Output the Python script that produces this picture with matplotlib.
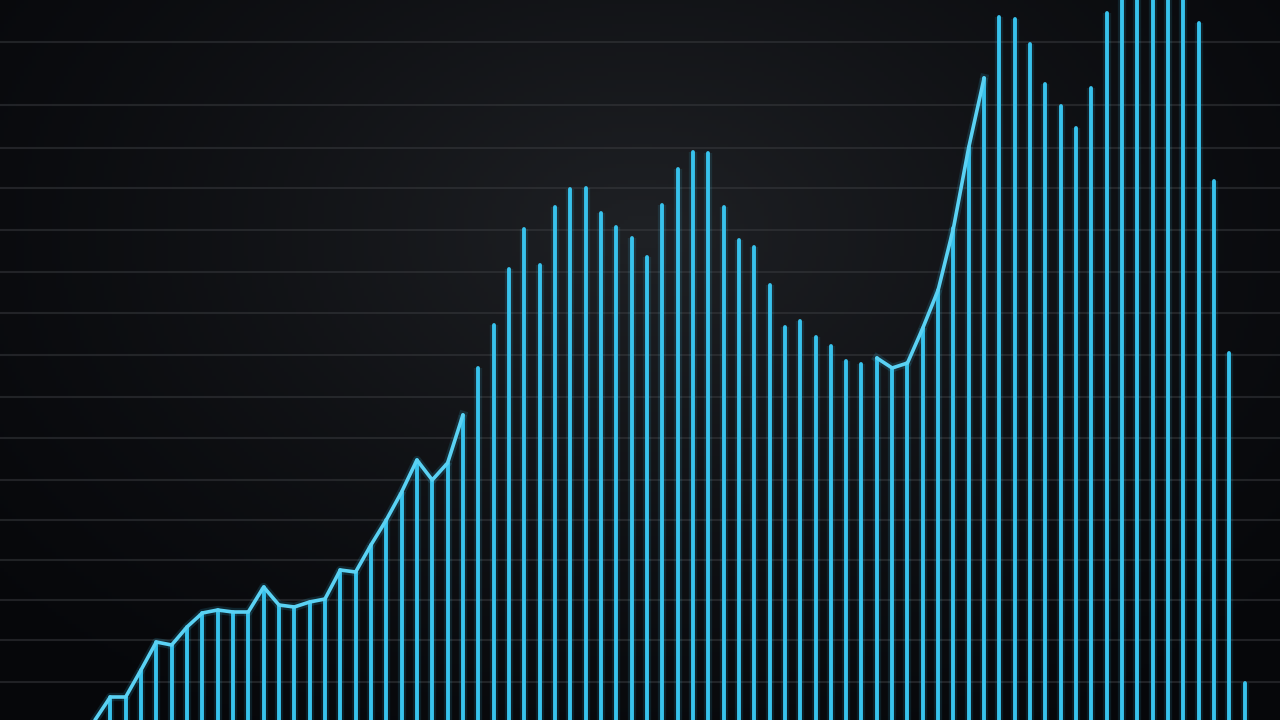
import numpy as np
import matplotlib
matplotlib.use("Agg")
import matplotlib.pyplot as plt

# bar heights (one per slot, left to right)
values = [0, 23, 23, 50, 78, 75, 93, 107, 110, 108, 108, 133, 115, 113, 118, 121,
          150, 148, 175, 200, 228, 260, 240, 257, 305, 352, 395, 451, 491, 455,
          513, 531, 532, 507, 493, 482, 463, 515, 551, 568, 567, 513, 480, 473,
          435, 393, 399, 383, 374, 359, 356, 362, 352, 357, 392, 430, 492, 573,
          642, 703, 701, 676, 636, 614, 592, 632, 707, 740, 745, 750, 745, 735,
          697, 539, 367, 37]
# slots traced by the outline line
line_segments = [(0, 24), (51, 58)]
# horizontal guide levels
grid_levels = [38, 80, 120, 160, 200, 240, 282, 323, 365, 407, 448, 490, 532, 572, 615, 678]

cyan = "#38c2ec"
fig = plt.figure(figsize=(12.8, 7.2), dpi=100)
ax = fig.add_axes([0, 0, 1, 1])
step = 15.33
x0 = 95
ax.set_xlim(-x0 / step, (1280 - x0) / step)
ax.set_ylim(0, 720)
ax.axis("off")

# background gradient
H, W = 180, 320
yy, xx = np.mgrid[0:H, 0:W]
cx, cy = 0.50 * W, 0.32 * H
d = np.sqrt(((xx - cx) / (0.7 * W)) ** 2 + ((yy - cy) / (0.85 * H)) ** 2)
t = np.clip(1 - d, 0, 1) ** 1.4
c_edge = np.array([0x06, 0x07, 0x0a]) / 255
c_mid = np.array([0x1f, 0x21, 0x25]) / 255
img = c_edge[None, None, :] * (1 - t[..., None]) + c_mid[None, None, :] * t[..., None]
ax.imshow(img, extent=[ax.get_xlim()[0], ax.get_xlim()[1], 0, 720], aspect="auto",
          zorder=0, origin="upper")

for g in grid_levels:
    ax.axhline(g, color="#3a3c40", lw=1.5, alpha=0.5, zorder=1)

xs = np.arange(len(values))
vals = np.array(values)
mask = vals > 0
ax.vlines(xs[mask], 0, vals[mask], color=cyan, lw=6, alpha=0.12, zorder=2)
ax.vlines(xs[mask], 0, vals[mask], color=cyan, lw=2.8, zorder=3, capstyle="round")

for a, b in line_segments:
    sx = xs[a:b + 1]
    sy = vals[a:b + 1]
    ax.plot(sx, sy, color=cyan, lw=6, alpha=0.15, zorder=4, solid_joinstyle="round")
    ax.plot(sx, sy, color="#5ad2f4", lw=2.6, zorder=5, solid_joinstyle="round",
            solid_capstyle="round")

fig.savefig("out.png", dpi=100)
